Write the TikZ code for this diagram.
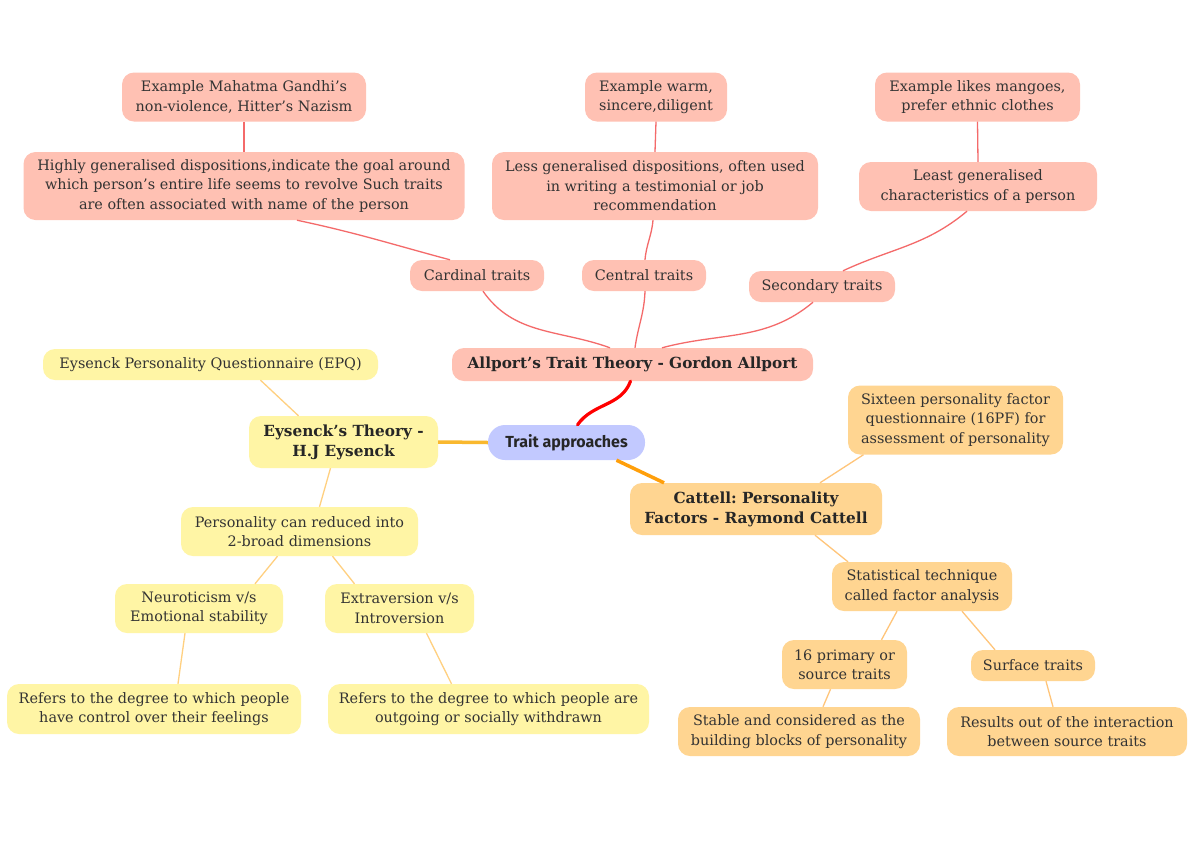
\documentclass[tikz,border=0pt]{standalone}
\usepackage{fontspec}
\setmainfont{DejaVu Serif}
\newfontfamily\rootfont{Fira Sans}
\usetikzlibrary{calc}
\definecolor{pinkfill}{HTML}{FFC1B3}
\definecolor{pinkline}{HTML}{F46A6A}
\definecolor{yelfill}{HTML}{FFF5A5}
\definecolor{yelline}{HTML}{FFD080}
\definecolor{orfill}{HTML}{FFD591}
\definecolor{orline}{HTML}{FFC57A}
\definecolor{bluefill}{HTML}{C2C9FF}
\definecolor{thickyel}{HTML}{F9B82E}
\definecolor{thickor}{HTML}{FF9F0A}
\definecolor{txt}{HTML}{333333}
\tikzset{
  box/.style={rounded corners=12pt, inner sep=0pt, align=center, text=txt,
    font=\frenchspacing\fontsize{14.4}{19.5}\selectfont},
  pk/.style={box, fill=pinkfill},
  yl/.style={box, fill=yelfill},
  og/.style={box, fill=orfill},
  bigtxt/.style={font=\frenchspacing\fontsize{15.3}{20}\selectfont\bfseries, text=black!85},
  pkl/.style={draw=pinkline, line width=1.3pt},
  yll/.style={draw=yelline, line width=1.3pt},
  ogl/.style={draw=orline, line width=1.3pt},
}
\newcommand{\bx}[5]{\node[#1, minimum width=#3, minimum height=#4] (#2) at #5}
\begin{document}
\begin{tikzpicture}[x=1pt,y=-1pt]
\useasboundingbox (0,0) rectangle (1200,847);
\fill[white] (0,0) rectangle (1200,847);
% Allport branch
\bx{pk}{gandhi}{244}{49}{(244,97)} {Example Mahatma Gandhi’s\\non-violence, Hitter’s Nazism};
\bx{pk}{highly}{441}{68}{(244,186)} {Highly generalised dispositions,indicate the goal around\\which person’s entire life seems to revolve Such traits\\are often associated with name of the person};
\bx{pk}{cardinal}{134}{31}{(477,275.5)} {Cardinal traits};
\bx{pk}{warm}{142}{49}{(656,97)} {Example warm,\\sincere,diligent};
\bx{pk}{less}{326}{68}{(655,186)} {Less generalised dispositions, often used\\in writing a testimonial or job\\recommendation};
\bx{pk}{central}{124}{31}{(644,275.5)} {Central traits};
\bx{pk}{mango}{205}{49}{(977.5,97)} {Example likes mangoes,\\prefer ethnic clothes};
\bx{pk}{least}{238}{49}{(978,186.5)} {Least generalised\\characteristics of a person};
\bx{pk}{secondary}{146}{31}{(822,286.5)} {Secondary traits};
\bx{pk,bigtxt}{allport}{361}{33}{(632.5,364.5)} {Allport’s Trait Theory - Gordon Allport};
% root
\node[box, fill=bluefill, minimum width=157, minimum height=35, rounded corners=17pt,
  font=\rootfont\fontsize{16}{19}\selectfont\bfseries, text=black!85] (root) at (566.5,442.5) {Trait approaches};
% Eysenck branch
\bx{yl}{epq}{335}{31}{(210.5,364.5)} {Eysenck Personality Questionnaire (EPQ)};
\bx{yl,bigtxt}{eysenck}{189}{52}{(343.5,442)} {Eysenck’s Theory -\\H.J Eysenck};
\bx{yl}{reduce}{237}{49}{(299.5,531.5)} {Personality can reduced into\\2-broad dimensions};
\bx{yl}{neuro}{168}{49}{(199,608.5)} {Neuroticism v/s\\Emotional stability};
\bx{yl}{extra}{149}{49}{(399.5,608.5)} {Extraversion v/s\\Introversion};
\bx{yl}{ref1}{294}{50}{(154,709)} {Refers to the degree to which people\\have control over their feelings};
\bx{yl}{ref2}{321}{50}{(488.5,709)} {Refers to the degree to which people are\\outgoing or socially withdrawn};
% Cattell branch
\bx{og}{sixteen}{215}{69}{(955.5,420)} {Sixteen personality factor\\questionnaire (16PF) for\\assessment of personality};
\bx{og,bigtxt}{cattell}{252}{52}{(756,509)} {Cattell: Personality\\Factors - Raymond Cattell};
\bx{og}{stat}{180}{49}{(922,586.5)} {Statistical technique\\called factor analysis};
\bx{og}{primary}{125}{49}{(844.5,664.5)} {16 primary or\\source traits};
\bx{og}{surface}{124}{31}{(1033,665.5)} {Surface traits};
\bx{og}{stable}{242}{49}{(799,731.5)} {Stable and considered as the\\building blocks of personality};
\bx{og}{results}{240}{49}{(1067,731.5)} {Results out of the interaction\\between source traits};
% pink connectors
\draw[pkl] (gandhi.south) -- (highly.north);
\draw[pkl] ($(highly.south)+(53,0)$) to[out=-12,in=165] ($(cardinal.north)+(-27,0)$);
\draw[pkl] ($(cardinal.south)+(6,0)$) to[out=-55,in=160] ($(allport.north)+(-22.5,0)$);
\draw[pkl] (warm.south) -- (less.north);
\draw[pkl] ($(less.south)+(-2,0)$) to[out=-95,in=85] ($(central.north)+(1,0)$);
\draw[pkl] ($(central.south)+(1,0)$) to[out=-92,in=82] ($(allport.north)+(2.5,0)$);
\draw[pkl] (mango.south) -- (least.north);
\draw[pkl] ($(least.south)+(-11,0)$) to[out=-140,in=25] ($(secondary.north)+(21,0)$);
\draw[pkl] ($(secondary.south)+(-9,0)$) to[out=-140,in=15] ($(allport.north)+(29.5,0)$);
\draw[red, line width=3.2pt, line cap=round] ($(allport.south)+(-2,0)$) to[out=-110,in=55] ($(root.north)+(11,0)$);
% root connectors
\draw[thickyel, line width=3.5pt] (root.west) -- (eysenck.east);
\draw[thickor, line width=3.5pt] ($(root.south)+(50,0)$) -- ($(cattell.north)+(-92,0)$);
% yellow connectors
\draw[yll] ($(epq.south)+(50,0)$) -- ($(eysenck.north)+(-45,0)$);
\draw[yll] ($(eysenck.south)+(-13,0)$) -- ($(reduce.north)+(20,0)$);
\draw[yll] ($(reduce.south)+(-22,0)$) -- ($(neuro.north)+(56,0)$);
\draw[yll] ($(reduce.south)+(33,0)$) -- ($(extra.north)+(-45,0)$);
\draw[yll] ($(neuro.south)+(-14,0)$) -- ($(ref1.north)+(24,0)$);
\draw[yll] ($(extra.south)+(27,0)$) -- ($(ref2.north)+(-37,0)$);
% orange connectors
\draw[ogl] ($(sixteen.south)+(-92,0)$) -- ($(cattell.north)+(64,0)$);
\draw[ogl] ($(cattell.south)+(59,0)$) -- ($(stat.north)+(-74,0)$);
\draw[ogl] ($(stat.south)+(-25,0)$) -- ($(primary.north)+(37,0)$);
\draw[ogl] ($(stat.south)+(40,0)$) -- ($(surface.north)+(-38,0)$);
\draw[ogl] ($(primary.south)+(-14,0)$) -- ($(stable.north)+(24,0)$);
\draw[ogl] ($(surface.south)+(13,0)$) -- ($(results.north)+(-14,0)$);
\end{tikzpicture}
\end{document}
